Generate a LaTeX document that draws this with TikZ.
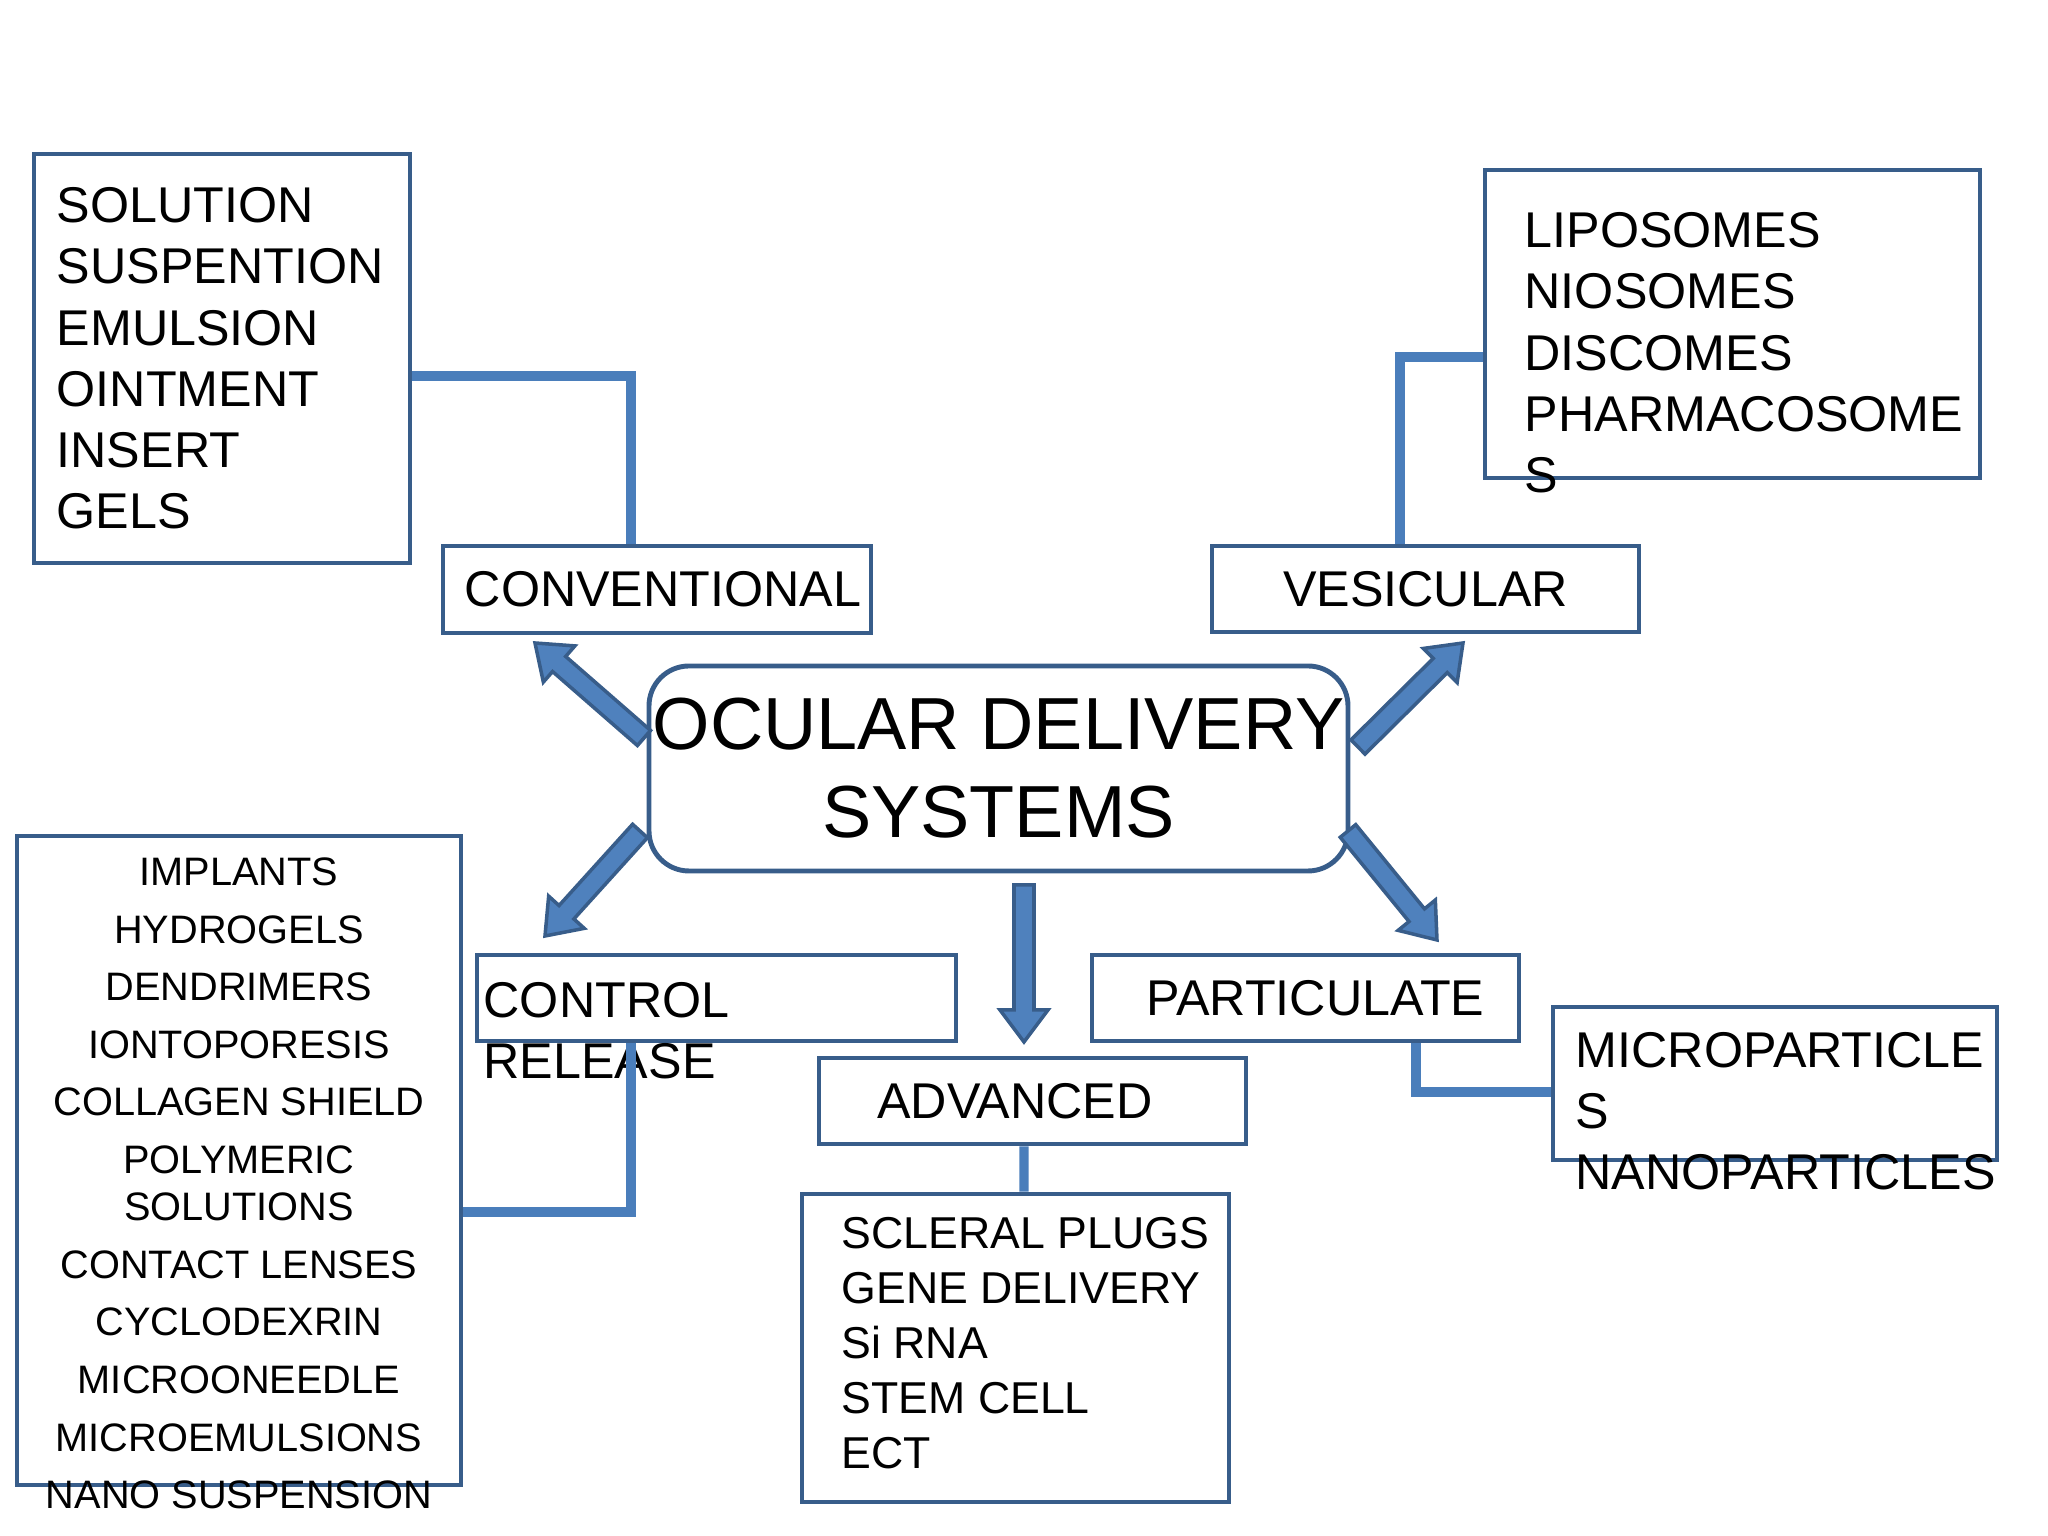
\documentclass[tikz,border=0pt]{standalone}
\usepackage{fontspec}
\setmainfont{Liberation Sans}
\usetikzlibrary{calc}

\definecolor{boxline}{RGB}{56,93,138}
\definecolor{linkblue}{RGB}{74,126,187}
\definecolor{arrowfill}{RGB}{79,129,189}

\tikzset{
  box/.style={draw=boxline, line width=1.4pt, inner sep=0pt},
  catbox/.style={box, minimum width=4.27cm, minimum height=0.86cm,
    font=\fontsize{14.3}{17.4}\selectfont},
  itemlist/.style={inner sep=0pt, align=left, font=\fontsize{14.3}{17.4}\selectfont},
  link/.style={draw=linkblue, line width=2.6pt},
  fat/.style={draw=boxline, fill=arrowfill, line width=1pt, to path={
    ($(\tikztotarget)!3.2mm!(\tikztostart)$) coordinate (fatm)
    ($(\tikztostart)!1mm!90:(\tikztotarget)$)
    -- ($(fatm)!1mm!-90:(\tikztostart)$)
    -- ($(fatm)!2.4mm!-90:(\tikztostart)$)
    -- (\tikztotarget)
    -- ($(fatm)!2.4mm!90:(\tikztostart)$)
    -- ($(fatm)!1mm!90:(\tikztostart)$)
    -- ($(\tikztostart)!1mm!-90:(\tikztotarget)$)
    -- cycle}}
}

\begin{document}
\begin{tikzpicture}

    \useasboundingbox (0,0) rectangle (20.48,15.36);

    % Centre
    \node[box, rounded corners=0.4cm, minimum width=6.99cm, minimum height=2.05cm,
      align=center, font=\fontsize{21}{25}\selectfont] (main) at (9.985,7.675)
      {OCULAR DELIVERY\\SYSTEMS};

    % Categories
    \node[catbox, minimum width=4.28cm, minimum height=0.87cm] (convbox) at (6.57,9.465) {\hspace*{0.12cm}CONVENTIONAL};
    \node[catbox] (vesbox) at (14.255,9.47) {VESICULAR};
    \node[catbox, minimum width=4.79cm] (ctrlbox) at (7.165,5.38) {};
    \node[catbox] (partbox) at (13.055,5.38) {\hspace*{0.2cm}PARTICULATE};
    \node[catbox] (advbox) at (10.325,4.35) {ADVANCED\hspace*{0.35cm}};

    % Lists
    \node[box, minimum width=3.76cm, minimum height=4.09cm] (solbox) at (2.22,11.775) {};
    \node[box, minimum width=4.95cm, minimum height=3.08cm] (lipbox) at (17.325,12.12) {};
    \node[box, minimum width=4.44cm, minimum height=6.49cm] (implbox) at (2.39,3.755) {};
    \node[box, minimum width=4.27cm, minimum height=3.08cm] (sclbox) at (10.155,1.88) {};
    \node[box, minimum width=4.44cm, minimum height=1.53cm] (micbox) at (17.75,4.525) {};

    \node[itemlist, anchor=north west] (sollist) at (0.56,13.49)
      {SOLUTION\\SUSPENTION\\EMULSION\\OINTMENT\\INSERT\\GELS};
    \node[itemlist, anchor=north west] (liplist) at (15.24,13.24)
      {LIPOSOMES\\NIOSOMES\\DISCOMES\\PHARMACOSOME\\S};
    \node[itemlist, anchor=north west] (ctrllist) at (4.83,5.545) {CONTROL\\RELEASE};
    \node[itemlist, anchor=north west] (miclist) at (15.75,5.045)
      {MICROPARTICLE\\S\\NANOPARTICLES};
    \node[itemlist, anchor=north west, font=\fontsize{12.7}{15.6}\selectfont] (scllist) at (8.41,3.19)
      {SCLERAL PLUGS\\GENE DELIVERY\\Si RNA\\STEM CELL\\ECT};
    \node[itemlist, anchor=north, align=center, font=\fontsize{11.3}{13.4}\selectfont] (impllist) at (2.39,6.79)
      {IMPLANTS\\[3pt]HYDROGELS\\[3pt]DENDRIMERS\\[3pt]IONTOPORESIS\\[3pt]COLLAGEN SHIELD\\[3pt]%
       POLYMERIC\\SOLUTIONS\\[3pt]CONTACT LENSES\\[3pt]CYCLODEXRIN\\[3pt]MICROONEEDLE\\[3pt]%
       MICROEMULSIONS\\[3pt]NANO SUSPENSION};

    % Links
    \draw[link] ([yshift=-1.75mm]solbox.east) -| ([xshift=-2.6mm]convbox.north);
    \draw[link] ([yshift=-3.3mm]lipbox.west) -| ([xshift=-2.55mm]vesbox.north);
    \draw[link] ([xshift=-8.55mm]ctrlbox.south) |- ([yshift=-5.15mm]implbox.east);
    \draw[link] ([xshift=-0.85mm]advbox.south) -- ([xshift=0.85mm]sclbox.north);
    \draw[link] ([xshift=11.05mm]partbox.south) |- ([yshift=-0.85mm]micbox.west);

    % Block arrows
    \coordinate (ulfrom) at (6.44,7.98);  \coordinate (ulto) at (5.35,8.93);
    \coordinate (urfrom) at (13.58,7.89); \coordinate (urto) at (14.63,8.93);
    \coordinate (llfrom) at (6.40,7.05);  \coordinate (llto) at (5.45,6.00);
    \coordinate (lrfrom) at (13.48,7.05); \coordinate (lrto) at (14.37,5.96);
    \coordinate (dnfrom) at (10.24,6.51); \coordinate (dnto) at (10.24,4.94);

    \draw[fat] (ulfrom) to (ulto);
    \draw[fat] (urfrom) to (urto);
    \draw[fat] (llfrom) to (llto);
    \draw[fat] (lrfrom) to (lrto);
    \draw[fat] (dnfrom) to (dnto);

\end{tikzpicture}
\end{document}
